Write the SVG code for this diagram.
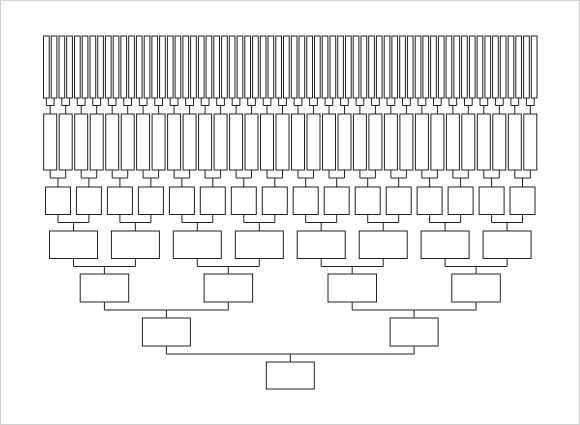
<svg xmlns="http://www.w3.org/2000/svg" width="580" height="425" viewBox="0 0 580 425">
<style>
.b{fill:#fff;stroke:#222;stroke-width:1}
.c{fill:none;stroke:#222;stroke-width:1}
.r1{width:5.7px;height:62px}
</style>
<rect x="0.5" y="0.5" width="579" height="424" fill="#fff" stroke="#d0d0d0" stroke-width="1"/>
<g id="connectors" class="c">
<path d="M46.4 98V105.5H54.1V98M50.2 105.5V114"/>
<path d="M61.8 98V105.5H69.6V98M65.7 105.5V114"/>
<path d="M77.3 98V105.5H85.1V98M81.2 105.5V114"/>
<path d="M92.8 98V105.5H100.6V98M96.7 105.5V114"/>
<path d="M108.3 98V105.5H116.0V98M112.2 105.5V114"/>
<path d="M123.8 98V105.5H131.5V98M127.7 105.5V114"/>
<path d="M139.3 98V105.5H147.0V98M143.1 105.5V114"/>
<path d="M154.8 98V105.5H162.5V98M158.6 105.5V114"/>
<path d="M170.2 98V105.5H178.0V98M174.1 105.5V114"/>
<path d="M185.7 98V105.5H193.5V98M189.6 105.5V114"/>
<path d="M201.2 98V105.5H209.0V98M205.1 105.5V114"/>
<path d="M216.7 98V105.5H224.4V98M220.6 105.5V114"/>
<path d="M232.2 98V105.5H239.9V98M236.1 105.5V114"/>
<path d="M247.7 98V105.5H255.4V98M251.5 105.5V114"/>
<path d="M263.2 98V105.5H270.9V98M267.0 105.5V114"/>
<path d="M278.6 98V105.5H286.4V98M282.5 105.5V114"/>
<path d="M294.1 98V105.5H301.9V98M298.0 105.5V114"/>
<path d="M309.6 98V105.5H317.4V98M313.5 105.5V114"/>
<path d="M325.1 98V105.5H332.8V98M329.0 105.5V114"/>
<path d="M340.6 98V105.5H348.3V98M344.5 105.5V114"/>
<path d="M356.1 98V105.5H363.8V98M359.9 105.5V114"/>
<path d="M371.6 98V105.5H379.3V98M375.4 105.5V114"/>
<path d="M387.0 98V105.5H394.8V98M390.9 105.5V114"/>
<path d="M402.5 98V105.5H410.3V98M406.4 105.5V114"/>
<path d="M418.0 98V105.5H425.8V98M421.9 105.5V114"/>
<path d="M433.5 98V105.5H441.2V98M437.4 105.5V114"/>
<path d="M449.0 98V105.5H456.7V98M452.9 105.5V114"/>
<path d="M464.5 98V105.5H472.2V98M468.3 105.5V114"/>
<path d="M480.0 98V105.5H487.7V98M483.8 105.5V114"/>
<path d="M495.4 98V105.5H503.2V98M499.3 105.5V114"/>
<path d="M510.9 98V105.5H518.7V98M514.8 105.5V114"/>
<path d="M526.4 98V105.5H534.2V98M530.3 105.5V114"/>
<path d="M50.2 170V178H65.7V170M58.0 178V187"/>
<path d="M81.2 170V178H96.7V170M88.9 178V187"/>
<path d="M112.2 170V178H127.7V170M119.9 178V187"/>
<path d="M143.1 170V178H158.6V170M150.9 178V187"/>
<path d="M174.1 170V178H189.6V170M181.9 178V187"/>
<path d="M205.1 170V178H220.6V170M212.8 178V187"/>
<path d="M236.1 170V178H251.5V170M243.8 178V187"/>
<path d="M267.0 170V178H282.5V170M274.8 178V187"/>
<path d="M298.0 170V178H313.5V170M305.7 178V187"/>
<path d="M329.0 170V178H344.5V170M336.7 178V187"/>
<path d="M359.9 170V178H375.4V170M367.7 178V187"/>
<path d="M390.9 170V178H406.4V170M398.7 178V187"/>
<path d="M421.9 170V178H437.4V170M429.6 178V187"/>
<path d="M452.9 170V178H468.3V170M460.6 178V187"/>
<path d="M483.8 170V178H499.3V170M491.6 178V187"/>
<path d="M514.8 170V178H530.3V170M522.5 178V187"/>
<path d="M58.0 214.5V222.5H88.9V214.5M73.5 222.5V231"/>
<path d="M119.9 214.5V222.5H150.9V214.5M135.4 222.5V231"/>
<path d="M181.9 214.5V222.5H212.8V214.5M197.3 222.5V231"/>
<path d="M243.8 214.5V222.5H274.8V214.5M259.3 222.5V231"/>
<path d="M305.7 214.5V222.5H336.7V214.5M321.2 222.5V231"/>
<path d="M367.7 214.5V222.5H398.7V214.5M383.2 222.5V231"/>
<path d="M429.6 214.5V222.5H460.6V214.5M445.1 222.5V231"/>
<path d="M491.6 214.5V222.5H522.5V214.5M507.1 222.5V231"/>
<path d="M73.5 258.5V266.5H135.4V258.5M104.4 266.5V274"/>
<path d="M197.3 258.5V266.5H259.3V258.5M228.3 266.5V274"/>
<path d="M321.2 258.5V266.5H383.2V258.5M352.2 266.5V274"/>
<path d="M445.1 258.5V266.5H507.1V258.5M476.1 266.5V274"/>
<path d="M104.4 302V310H228.3V302M166.4 310V318"/>
<path d="M352.2 302V310H476.1V302M414.1 310V318"/>
<path d="M166.4 346V354H414.1V346M290.3 354V362"/>
</g>
<g id="round1">
<g id="r1-0"><rect class="b" x="43.5" y="36" width="5.7" height="62"/></g>
<g id="r1-1"><rect class="b" x="51.2" y="36" width="5.7" height="62"/></g>
<g id="r1-2"><rect class="b" x="59.0" y="36" width="5.7" height="62"/></g>
<g id="r1-3"><rect class="b" x="66.7" y="36" width="5.7" height="62"/></g>
<g id="r1-4"><rect class="b" x="74.5" y="36" width="5.7" height="62"/></g>
<g id="r1-5"><rect class="b" x="82.2" y="36" width="5.7" height="62"/></g>
<g id="r1-6"><rect class="b" x="90.0" y="36" width="5.7" height="62"/></g>
<g id="r1-7"><rect class="b" x="97.7" y="36" width="5.7" height="62"/></g>
<g id="r1-8"><rect class="b" x="105.4" y="36" width="5.7" height="62"/></g>
<g id="r1-9"><rect class="b" x="113.2" y="36" width="5.7" height="62"/></g>
<g id="r1-10"><rect class="b" x="120.9" y="36" width="5.7" height="62"/></g>
<g id="r1-11"><rect class="b" x="128.7" y="36" width="5.7" height="62"/></g>
<g id="r1-12"><rect class="b" x="136.4" y="36" width="5.7" height="62"/></g>
<g id="r1-13"><rect class="b" x="144.2" y="36" width="5.7" height="62"/></g>
<g id="r1-14"><rect class="b" x="151.9" y="36" width="5.7" height="62"/></g>
<g id="r1-15"><rect class="b" x="159.6" y="36" width="5.7" height="62"/></g>
<g id="r1-16"><rect class="b" x="167.4" y="36" width="5.7" height="62"/></g>
<g id="r1-17"><rect class="b" x="175.1" y="36" width="5.7" height="62"/></g>
<g id="r1-18"><rect class="b" x="182.9" y="36" width="5.7" height="62"/></g>
<g id="r1-19"><rect class="b" x="190.6" y="36" width="5.7" height="62"/></g>
<g id="r1-20"><rect class="b" x="198.4" y="36" width="5.7" height="62"/></g>
<g id="r1-21"><rect class="b" x="206.1" y="36" width="5.7" height="62"/></g>
<g id="r1-22"><rect class="b" x="213.8" y="36" width="5.7" height="62"/></g>
<g id="r1-23"><rect class="b" x="221.6" y="36" width="5.7" height="62"/></g>
<g id="r1-24"><rect class="b" x="229.3" y="36" width="5.7" height="62"/></g>
<g id="r1-25"><rect class="b" x="237.1" y="36" width="5.7" height="62"/></g>
<g id="r1-26"><rect class="b" x="244.8" y="36" width="5.7" height="62"/></g>
<g id="r1-27"><rect class="b" x="252.6" y="36" width="5.7" height="62"/></g>
<g id="r1-28"><rect class="b" x="260.3" y="36" width="5.7" height="62"/></g>
<g id="r1-29"><rect class="b" x="268.0" y="36" width="5.7" height="62"/></g>
<g id="r1-30"><rect class="b" x="275.8" y="36" width="5.7" height="62"/></g>
<g id="r1-31"><rect class="b" x="283.5" y="36" width="5.7" height="62"/></g>
<g id="r1-32"><rect class="b" x="291.3" y="36" width="5.7" height="62"/></g>
<g id="r1-33"><rect class="b" x="299.0" y="36" width="5.7" height="62"/></g>
<g id="r1-34"><rect class="b" x="306.8" y="36" width="5.7" height="62"/></g>
<g id="r1-35"><rect class="b" x="314.5" y="36" width="5.7" height="62"/></g>
<g id="r1-36"><rect class="b" x="322.2" y="36" width="5.7" height="62"/></g>
<g id="r1-37"><rect class="b" x="330.0" y="36" width="5.7" height="62"/></g>
<g id="r1-38"><rect class="b" x="337.7" y="36" width="5.7" height="62"/></g>
<g id="r1-39"><rect class="b" x="345.5" y="36" width="5.7" height="62"/></g>
<g id="r1-40"><rect class="b" x="353.2" y="36" width="5.7" height="62"/></g>
<g id="r1-41"><rect class="b" x="361.0" y="36" width="5.7" height="62"/></g>
<g id="r1-42"><rect class="b" x="368.7" y="36" width="5.7" height="62"/></g>
<g id="r1-43"><rect class="b" x="376.4" y="36" width="5.7" height="62"/></g>
<g id="r1-44"><rect class="b" x="384.2" y="36" width="5.7" height="62"/></g>
<g id="r1-45"><rect class="b" x="391.9" y="36" width="5.7" height="62"/></g>
<g id="r1-46"><rect class="b" x="399.7" y="36" width="5.7" height="62"/></g>
<g id="r1-47"><rect class="b" x="407.4" y="36" width="5.7" height="62"/></g>
<g id="r1-48"><rect class="b" x="415.2" y="36" width="5.7" height="62"/></g>
<g id="r1-49"><rect class="b" x="422.9" y="36" width="5.7" height="62"/></g>
<g id="r1-50"><rect class="b" x="430.6" y="36" width="5.7" height="62"/></g>
<g id="r1-51"><rect class="b" x="438.4" y="36" width="5.7" height="62"/></g>
<g id="r1-52"><rect class="b" x="446.1" y="36" width="5.7" height="62"/></g>
<g id="r1-53"><rect class="b" x="453.9" y="36" width="5.7" height="62"/></g>
<g id="r1-54"><rect class="b" x="461.6" y="36" width="5.7" height="62"/></g>
<g id="r1-55"><rect class="b" x="469.4" y="36" width="5.7" height="62"/></g>
<g id="r1-56"><rect class="b" x="477.1" y="36" width="5.7" height="62"/></g>
<g id="r1-57"><rect class="b" x="484.9" y="36" width="5.7" height="62"/></g>
<g id="r1-58"><rect class="b" x="492.6" y="36" width="5.7" height="62"/></g>
<g id="r1-59"><rect class="b" x="500.3" y="36" width="5.7" height="62"/></g>
<g id="r1-60"><rect class="b" x="508.1" y="36" width="5.7" height="62"/></g>
<g id="r1-61"><rect class="b" x="515.8" y="36" width="5.7" height="62"/></g>
<g id="r1-62"><rect class="b" x="523.6" y="36" width="5.7" height="62"/></g>
<g id="r1-63"><rect class="b" x="531.3" y="36" width="5.7" height="62"/></g>
</g>
<g id="round2">
<g id="r2-0"><rect class="b" x="43.7" y="114" width="13" height="56"/></g>
<g id="r2-1"><rect class="b" x="59.2" y="114" width="13" height="56"/></g>
<g id="r2-2"><rect class="b" x="74.7" y="114" width="13" height="56"/></g>
<g id="r2-3"><rect class="b" x="90.2" y="114" width="13" height="56"/></g>
<g id="r2-4"><rect class="b" x="105.7" y="114" width="13" height="56"/></g>
<g id="r2-5"><rect class="b" x="121.2" y="114" width="13" height="56"/></g>
<g id="r2-6"><rect class="b" x="136.6" y="114" width="13" height="56"/></g>
<g id="r2-7"><rect class="b" x="152.1" y="114" width="13" height="56"/></g>
<g id="r2-8"><rect class="b" x="167.6" y="114" width="13" height="56"/></g>
<g id="r2-9"><rect class="b" x="183.1" y="114" width="13" height="56"/></g>
<g id="r2-10"><rect class="b" x="198.6" y="114" width="13" height="56"/></g>
<g id="r2-11"><rect class="b" x="214.1" y="114" width="13" height="56"/></g>
<g id="r2-12"><rect class="b" x="229.6" y="114" width="13" height="56"/></g>
<g id="r2-13"><rect class="b" x="245.0" y="114" width="13" height="56"/></g>
<g id="r2-14"><rect class="b" x="260.5" y="114" width="13" height="56"/></g>
<g id="r2-15"><rect class="b" x="276.0" y="114" width="13" height="56"/></g>
<g id="r2-16"><rect class="b" x="291.5" y="114" width="13" height="56"/></g>
<g id="r2-17"><rect class="b" x="307.0" y="114" width="13" height="56"/></g>
<g id="r2-18"><rect class="b" x="322.5" y="114" width="13" height="56"/></g>
<g id="r2-19"><rect class="b" x="338.0" y="114" width="13" height="56"/></g>
<g id="r2-20"><rect class="b" x="353.4" y="114" width="13" height="56"/></g>
<g id="r2-21"><rect class="b" x="368.9" y="114" width="13" height="56"/></g>
<g id="r2-22"><rect class="b" x="384.4" y="114" width="13" height="56"/></g>
<g id="r2-23"><rect class="b" x="399.9" y="114" width="13" height="56"/></g>
<g id="r2-24"><rect class="b" x="415.4" y="114" width="13" height="56"/></g>
<g id="r2-25"><rect class="b" x="430.9" y="114" width="13" height="56"/></g>
<g id="r2-26"><rect class="b" x="446.4" y="114" width="13" height="56"/></g>
<g id="r2-27"><rect class="b" x="461.8" y="114" width="13" height="56"/></g>
<g id="r2-28"><rect class="b" x="477.3" y="114" width="13" height="56"/></g>
<g id="r2-29"><rect class="b" x="492.8" y="114" width="13" height="56"/></g>
<g id="r2-30"><rect class="b" x="508.3" y="114" width="13" height="56"/></g>
<g id="r2-31"><rect class="b" x="523.8" y="114" width="13" height="56"/></g>
</g>
<g id="round3">
<g id="r3-0"><rect class="b" x="45.5" y="187" width="25" height="27.5"/></g>
<g id="r3-1"><rect class="b" x="76.4" y="187" width="25" height="27.5"/></g>
<g id="r3-2"><rect class="b" x="107.4" y="187" width="25" height="27.5"/></g>
<g id="r3-3"><rect class="b" x="138.4" y="187" width="25" height="27.5"/></g>
<g id="r3-4"><rect class="b" x="169.4" y="187" width="25" height="27.5"/></g>
<g id="r3-5"><rect class="b" x="200.3" y="187" width="25" height="27.5"/></g>
<g id="r3-6"><rect class="b" x="231.3" y="187" width="25" height="27.5"/></g>
<g id="r3-7"><rect class="b" x="262.3" y="187" width="25" height="27.5"/></g>
<g id="r3-8"><rect class="b" x="293.2" y="187" width="25" height="27.5"/></g>
<g id="r3-9"><rect class="b" x="324.2" y="187" width="25" height="27.5"/></g>
<g id="r3-10"><rect class="b" x="355.2" y="187" width="25" height="27.5"/></g>
<g id="r3-11"><rect class="b" x="386.2" y="187" width="25" height="27.5"/></g>
<g id="r3-12"><rect class="b" x="417.1" y="187" width="25" height="27.5"/></g>
<g id="r3-13"><rect class="b" x="448.1" y="187" width="25" height="27.5"/></g>
<g id="r3-14"><rect class="b" x="479.1" y="187" width="25" height="27.5"/></g>
<g id="r3-15"><rect class="b" x="510.0" y="187" width="25" height="27.5"/></g>
</g>
<g id="round4">
<g id="r4-0"><rect class="b" x="49.5" y="231" width="48" height="27.5"/></g>
<g id="r4-1"><rect class="b" x="111.4" y="231" width="48" height="27.5"/></g>
<g id="r4-2"><rect class="b" x="173.3" y="231" width="48" height="27.5"/></g>
<g id="r4-3"><rect class="b" x="235.3" y="231" width="48" height="27.5"/></g>
<g id="r4-4"><rect class="b" x="297.2" y="231" width="48" height="27.5"/></g>
<g id="r4-5"><rect class="b" x="359.2" y="231" width="48" height="27.5"/></g>
<g id="r4-6"><rect class="b" x="421.1" y="231" width="48" height="27.5"/></g>
<g id="r4-7"><rect class="b" x="483.1" y="231" width="48" height="27.5"/></g>
</g>
<g id="round5">
<g id="r5-0"><rect class="b" x="80.2" y="274" width="48.5" height="28"/></g>
<g id="r5-1"><rect class="b" x="204.1" y="274" width="48.5" height="28"/></g>
<g id="r5-2"><rect class="b" x="328.0" y="274" width="48.5" height="28"/></g>
<g id="r5-3"><rect class="b" x="451.8" y="274" width="48.5" height="28"/></g>
</g>
<g id="round6">
<g id="r6-0"><rect class="b" x="142.4" y="318" width="48" height="28"/></g>
<g id="r6-1"><rect class="b" x="390.1" y="318" width="48" height="28"/></g>
</g>
<g id="final"><rect class="b" x="266.3" y="362" width="48" height="27"/></g>
</svg>
